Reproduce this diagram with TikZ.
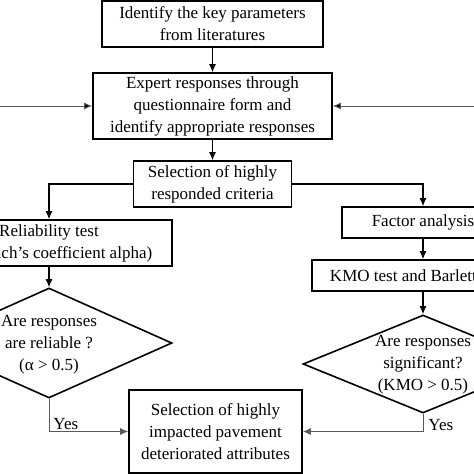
\documentclass[tikz,border=0pt]{standalone}
\usepackage{fontspec}
\setmainfont{Liberation Serif}
\usetikzlibrary{shapes.geometric, arrows.meta}

\begin{document}
\begin{tikzpicture}[x=1pt, y=-1pt,
  box/.style={rectangle, draw, line width=1.6pt, align=center, inner sep=0pt, font=\fontsize{17}{22}\selectfont},
  dia/.style={diamond, draw, line width=1.6pt, inner sep=0pt},
  txt/.style={align=center, inner sep=0pt, font=\fontsize{17}{22}\selectfont},
  link/.style={-{Latex[length=8pt, width=7pt]}, line width=1.2pt},
  side/.style={-{Latex[length=8pt, width=7pt]}, draw=black!65, line width=0.9pt}]

  \useasboundingbox (0,0) rectangle (474,474);
  \clip (0,0) rectangle (474,474);

  % Nodes
  \draw (212.5,24)    node(Lit)  [box, minimum width=221, minimum height=46] {Identify the key parameters\\from literatures};
  \draw (212.5,106)   node(Exp)  [box, minimum width=239, minimum height=66] {Expert responses through\\questionnaire form and\\identify appropriate responses};
  \draw (212.5,184)   node(Sel)  [box, minimum width=158, minimum height=46] {Selection of highly\\responded criteria};
  \draw (49,243)      node(Rel)  [box, minimum width=246, minimum height=46] {Reliability test\\(Cronbach’s coefficient alpha)};
  \draw (423,222.5)   node(Fac)  [box, minimum width=162, minimum height=31] {Factor analysis};
  \draw (423,275.5)   node(KMO)  [box, minimum width=222, minimum height=31] {KMO test and Barlett’s test};
  \draw (49,343)      node(Dia1) [dia, minimum width=246, minimum height=110] {};
  \draw (49,345)      node(Q1)   [txt] {Are responses\\are reliable ?\\(α > 0.5)};
  \draw (423,364)     node(Dia2) [dia, minimum width=240, minimum height=98] {};
  \draw (423,365)     node(Q2)   [txt] {Are responses\\significant?\\(KMO > 0.5)};
  \draw (215.5,431.5) node(Fin)  [box, minimum width=173, minimum height=83] {Selection of highly\\impacted pavement\\deteriorated attributes};

  \coordinate (InL) at (-10,106);
  \coordinate (InR) at (484,106);

  % Edges
  \path[link] (Lit) edge (Exp);
  \path[link] (Exp) edge (Sel);
  \path[side] (InL) edge (Exp.west);
  \path[side] (InR) edge (Exp.east);
  \draw[link] (Sel.west) -| (Rel.north);
  \draw[link] (Sel.east) -| (Fac.north);
  \path[link] (Rel) edge (Dia1.north);
  \path[link] (Fac) edge (KMO);
  \path[link] (KMO) edge (Dia2.north);

  \draw[side] (Dia1.south) |- node[pos=0.5, anchor=south west, txt, xshift=4, yshift=1] (Yes1) {Yes} (Fin.west);
  \draw[side] (Dia2.south) |- node[pos=0.5, anchor=west, txt, xshift=5, yshift=6] (Yes2) {Yes} (Fin.east);
\end{tikzpicture}
\end{document}
